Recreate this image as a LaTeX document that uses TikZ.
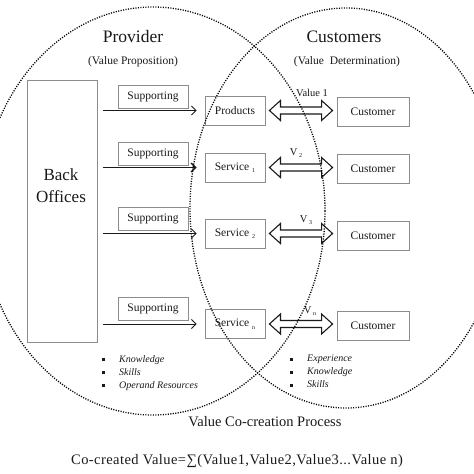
\documentclass[tikz,border=0pt]{standalone}
\usepackage{fontspec}
\setmainfont{Liberation Serif}
\usetikzlibrary{arrows.meta,calc}
\definecolor{boxgray}{HTML}{8C8C8C}
\definecolor{txt}{HTML}{1A1A1A}
\tikzset{
  venn/.style={draw=black, line width=1.3pt, dash pattern=on 1.1pt off 1.4pt},
  gbox/.style={draw=boxgray, line width=0.9pt, inner sep=0pt, text=txt},
  supbox/.style={gbox, minimum width=70pt, minimum height=23pt, font=\fontsize{11.5}{13}\selectfont},
  midbox/.style={gbox, minimum width=60pt, minimum height=29pt, font=\fontsize{11.5}{13}\selectfont},
  custbox/.style={gbox, minimum width=72pt, minimum height=29pt, font=\fontsize{11.5}{13}\selectfont},
  feed/.style={draw=txt, line width=0.8pt, -{Straight Barb[length=4.5pt,width=9pt]}, shorten <=6pt, shorten >=8pt},
  hollow/.style={draw=txt, fill=white, line width=1.1pt, line join=miter},
  vlabel/.style={inner sep=0pt, text=txt, font=\fontsize{10.5}{12}\selectfont},
  title/.style={inner sep=0pt, text=txt, font=\fontsize{17.5}{20}\selectfont},
  subtitle/.style={inner sep=0pt, text=txt, font=\fontsize{11.5}{13}\selectfont},
  blist/.style={inner sep=0pt, anchor=north west, align=left, text=txt, font=\fontsize{10}{13}\selectfont\itshape}
}
\newcommand{\sbx}[1]{\raisebox{-2.5pt}{\fontsize{6}{6}\selectfont #1}}
\newcommand{\bul}{\makebox[17pt][l]{\raisebox{1pt}{\rule{2.8pt}{2.8pt}}}}
% hollow two-headed arrow from node #1 to node #2
\newcommand{\varrow}[2]{%
  \draw[hollow] ([xshift=4pt]#1.east)
    -- ([xshift=15pt,yshift=10pt]#1.east)
    -- ([xshift=15pt,yshift=3.5pt]#1.east)
    -- ([xshift=-15pt,yshift=3.5pt]#1.east -| #2.west)
    -- ([xshift=-15pt,yshift=10pt]#1.east -| #2.west)
    -- ([xshift=-4pt]#1.east -| #2.west)
    -- ([xshift=-15pt,yshift=-10pt]#1.east -| #2.west)
    -- ([xshift=-15pt,yshift=-3.5pt]#1.east -| #2.west)
    -- ([xshift=15pt,yshift=-3.5pt]#1.east)
    -- ([xshift=15pt,yshift=-10pt]#1.east)
    -- cycle;}
\begin{document}
\begin{tikzpicture}[x=1pt,y=-1pt]
\useasboundingbox (0,0) rectangle (474,474);
\clip (0,0) rectangle (474,474);
\fill[white] (0,0) rectangle (474,474);

% titles
\node[title] (prov) at (133,37) {Provider};
\node[subtitle] (provsub) at (133,62) {(Value Proposition)};
\node[title] (cust) at (344,37) {Customers};
\node[subtitle] (custsub) at (347,62) {(Value\ \ Determination)};

% back offices
\node[gbox, minimum width=70pt, minimum height=262pt] (back) at (62,211) {};
\node[inner sep=0pt, align=center, text=txt, font=\fontsize{17}{22}\selectfont] (backtxt) at (61,186) {Back\\Offices};

% supporting boxes
\node[supbox] (s1) at (153,96.5) {Supporting};
\node[supbox] (s2) at (153,153.5) {Supporting};
\node[supbox] (s3) at (153,218.5) {Supporting};
\node[supbox] (s4) at (153,309) {Supporting};

% middle boxes
\node[midbox] (m1) at (235,110.5) {Products};
\node[midbox] (m2) at (235,167.5) {Service \sbx{1}};
\node[midbox] (m3) at (235,233.5) {Service \sbx{2}};
\node[midbox] (m4) at (235,324) {Service \sbx{n}};

% customer boxes
\node[custbox] (c1) at (373,111.5) {Customer};
\node[custbox] (c2) at (373,169) {Customer};
\node[custbox] (c3) at (373,236) {Customer};
\node[custbox] (c4) at (373,325.5) {Customer};

% feed arrows
\draw[feed] (back.east |- m1) -- (m1.west);
\draw[feed, line width=1.3pt] (back.east |- m2) -- (m2.west);
\draw[feed] (back.east |- m3) -- (m3.west);
\draw[feed] (back.east |- m4) -- (m4.west);

% value arrows
\varrow{m1}{c1}
\varrow{m2}{c2}
\varrow{m3}{c3}
\varrow{m4}{c4}

% value labels
\node[vlabel] (v1) at (312,93) {Value 1};
\node[vlabel] (v2) at (296,153) {V\,\sbx{2}};
\node[vlabel] (v3) at (306,220) {V\,\sbx{3}};
\node[vlabel] (v4) at (310,311) {V\,\sbx{n}};

% bullet lists
\node[blist] (lpl) at (102,355) {\bul Knowledge\\\bul Skills\\\bul Operand Resources};
\node[blist] (lpr) at (290,355) {\bul Experience\\\bul Knowledge\\\bul Skills};

% Venn ellipses (drawn over the content)
\draw[venn] (153,211) ellipse [x radius=172, y radius=204];
\draw[venn] (346,208) ellipse [x radius=156, y radius=200];

% bottom texts
\node[inner sep=0pt, text=txt, font=\fontsize{14.5}{17}\selectfont] (proc) at (265,422) {Value Co-creation Process};
\node[inner sep=0pt, text=txt, font=\fontsize{14.5}{17}\selectfont\addfontfeatures{LetterSpace=3}] (formula) at (237,461) {Co-created Value=∑(Value1,Value2,Value3...Value n)};
\end{tikzpicture}
\end{document}
